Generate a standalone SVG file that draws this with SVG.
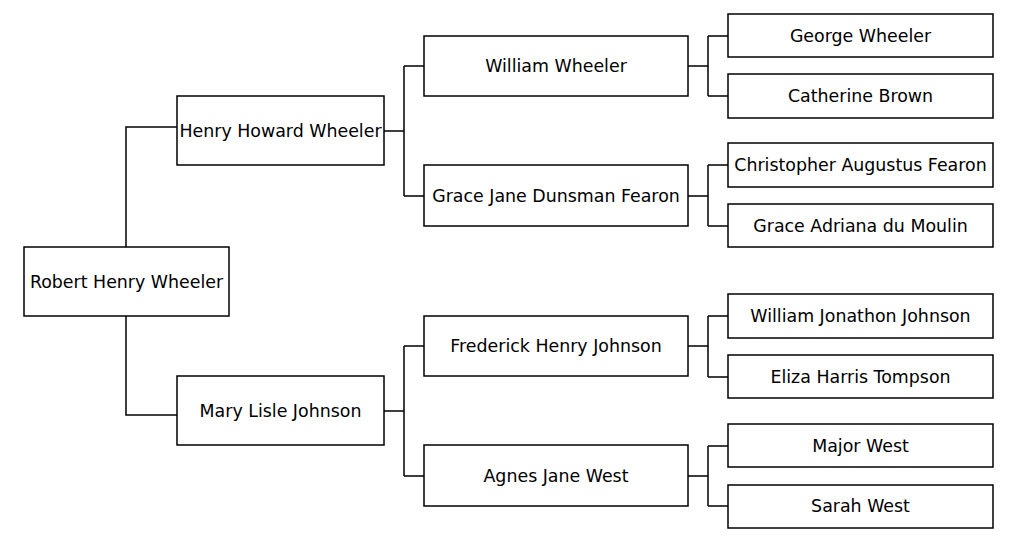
<svg xmlns="http://www.w3.org/2000/svg" width="1024" height="548" viewBox="0 0 1024 548">
<style>
rect{fill:#fff;stroke:#000;stroke-width:1.5}
text{font-family:"DejaVu Sans",Verdana,sans-serif;font-size:17.4px;text-anchor:middle;dominant-baseline:central;fill:#000}
.c path{fill:none;stroke:#000;stroke-width:1.5}
</style>
<rect x="0" y="0" width="1024" height="548" style="stroke:none"/>
<g class="c">
<path d="M126 247V127H177M126 316V415H177"/>
<path d="M384 131H404M404 66V196M404 66H424M404 196H424"/>
<path d="M384 411H404M404 346V476M404 346H424M404 476H424"/>
<path d="M688 66H708M708 36V96M708 36H728M708 96H728"/>
<path d="M688 196H708M708 165V226M708 165H728M708 226H728"/>
<path d="M688 346H708M708 316V377M708 316H728M708 377H728"/>
<path d="M688 476H708M708 446V506M708 446H728M708 506H728"/>
</g>
<g id="robert"><rect x="24" y="247" width="205" height="69"/><text x="126.5" y="282">Robert Henry Wheeler</text></g>
<g id="henry"><rect x="177" y="96" width="207" height="69"/><text x="280.5" y="131">Henry Howard Wheeler</text></g>
<g id="mary"><rect x="177" y="376" width="207" height="69"/><text x="280.5" y="411">Mary Lisle Johnson</text></g>
<g id="william"><rect x="424" y="36" width="264" height="60"/><text x="556" y="66">William Wheeler</text></g>
<g id="gracejane"><rect x="424" y="165" width="264" height="61"/><text x="556" y="196">Grace Jane Dunsman Fearon</text></g>
<g id="frederick"><rect x="424" y="316" width="264" height="60"/><text x="556" y="346">Frederick Henry Johnson</text></g>
<g id="agnes"><rect x="424" y="445" width="264" height="61"/><text x="556" y="476">Agnes Jane West</text></g>
<g id="george"><rect x="728" y="14" width="265" height="43"/><text x="860.5" y="36">George Wheeler</text></g>
<g id="catherine"><rect x="728" y="74" width="265" height="44"/><text x="860.5" y="96">Catherine Brown</text></g>
<g id="christopher"><rect x="728" y="143" width="265" height="44"/><text x="860.5" y="165">Christopher Augustus Fearon</text></g>
<g id="graceadriana"><rect x="728" y="204" width="265" height="43"/><text x="860.5" y="226">Grace Adriana du Moulin</text></g>
<g id="williamj"><rect x="728" y="294" width="265" height="44"/><text x="860.5" y="316">William Jonathon Johnson</text></g>
<g id="eliza"><rect x="728" y="355" width="265" height="43"/><text x="860.5" y="377">Eliza Harris Tompson</text></g>
<g id="major"><rect x="728" y="424" width="265" height="43"/><text x="860.5" y="446">Major West</text></g>
<g id="sarah"><rect x="728" y="485" width="265" height="43"/><text x="860.5" y="506">Sarah West</text></g>
</svg>
